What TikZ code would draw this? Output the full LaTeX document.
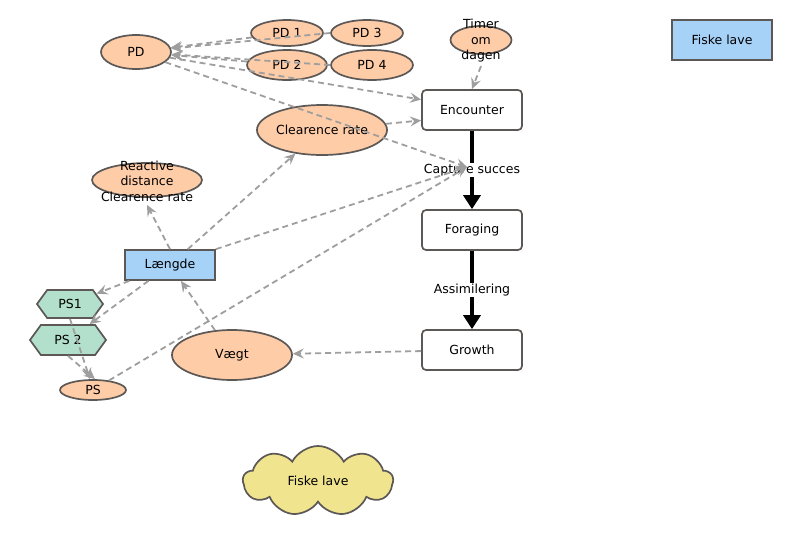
\documentclass[tikz,border=0pt]{standalone}
\usepackage{fontspec}
\setmainfont{DejaVu Sans}
\usetikzlibrary{shapes.geometric,shapes.symbols,arrows.meta,calc}
\definecolor{peach}{RGB}{255,204,168}
\definecolor{mint}{RGB}{178,224,204}
\definecolor{skyblue}{RGB}{166,210,248}
\definecolor{sand}{RGB}{240,228,142}
\definecolor{rim}{RGB}{92,88,86}
\definecolor{linkgrey}{RGB}{158,158,158}
\begin{document}
\begin{tikzpicture}[x=1pt, y=-1pt,
    every node/.style={font=\fontsize{12.5}{15.5}\selectfont},
    oval/.style={ellipse, draw=rim, line width=1.7pt, fill=peach, inner sep=0pt},
    step box/.style={rectangle, draw=rim, line width=1.7pt, rounded corners=4pt, fill=white, minimum width=100, minimum height=40},
    var box/.style={rectangle, draw=rim, line width=1.7pt, fill=skyblue},
    hexa/.style={signal, signal to=west and east, signal pointer angle=108, draw=rim, line width=1.7pt, fill=mint, inner sep=0pt},
    link/.style={draw=linkgrey, line width=1.8pt, dash pattern=on 6pt off 4pt, -{Stealth[length=11pt, width=10pt, inset=4pt]}},
    flow/.style={draw=black, line width=4.5pt, -{Triangle[length=14pt, width=17pt]}}
]
\useasboundingbox (0,0) rectangle (800,541);

% pelagic density
\node[oval, minimum width=70, minimum height=34] (pd) at (136,52) {PD};
\node[oval, minimum width=72, minimum height=26] (pd1) at (287,33) {PD 1};
\node[oval, minimum width=72, minimum height=26] (pd3) at (367,33) {PD 3};
\node[oval, minimum width=80, minimum height=30] (pd2) at (287,65) {PD 2};
\node[oval, minimum width=82, minimum height=30] (pd4) at (372,65) {PD 4};

% time of day
\node[oval, minimum width=61, minimum height=28] (timer) at (481,40) {};
\node[align=center] (timertxt) at (481,41) {Timer\\om\\dagen};

% main chain
\node[step box] (enc) at (472,110) {Encounter};
\node[step box] (forag) at (472,230) {Foraging};
\node[step box] (growth) at (472,350) {Growth};

\node[oval, minimum width=120, minimum height=50] (clear) at (322,130) {Clearence rate};
\node[oval, minimum width=110, minimum height=34] (react) at (147,180) {};
\node[align=center] (reacttxt) at (147,181) {Reactive\\distance\\Clearence rate};

\node[var box, minimum width=90, minimum height=30] (laengde) at (170,265) {Længde};
\node[hexa, minimum width=66, minimum height=28] (ps1) at (70,304) {PS1};
\node[hexa, minimum width=76, minimum height=30] (ps2) at (68,340) {PS 2};
\node[oval, minimum width=66, minimum height=20] (ps) at (93,390) {PS};
\node[oval, minimum width=120, minimum height=50] (vaegt) at (232,355) {Vægt};

% legend
\node[cloud, cloud puffs=9, cloud puff arc=125, aspect=2.2, draw=rim, line width=1.7pt, fill=sand, minimum width=150, minimum height=70] (cloudlave) at (318,481) {Fiske lave};
\node[var box, minimum width=100, minimum height=40] (boxlave) at (722,40) {Fiske lave};

% flow
\draw[flow] (enc) -- node[fill=white, inner sep=1pt] (capt) {Capture succes} (forag);
\draw[flow] (forag) -- node[fill=white, inner sep=1pt] {Assimilering} (growth);
\coordinate (cap) at (467,167);

% influences
\draw[link] (pd1) -- (pd);
\draw[link] (pd3.west) -- (pd);
\draw[link] (pd2) -- (pd);
\draw[link] (pd4.west) -- (pd);
\draw[link] (pd) -- ($(enc.west)!0.5!(enc.north west)$);
\draw[link] (pd) -- (cap);
\draw[link] (clear) -- ($(enc.west)!0.5!(enc.south west)$);
\draw[link] (timertxt.south) -- (enc.north);
\draw[link] (laengde.north) -- (reacttxt.south);
\draw[link] (laengde) -- (clear);
\draw[link] (laengde.north east) -- (cap);
\draw[link] (laengde) -- (ps1);
\draw[link] (laengde) -- (ps2);
\draw[link] (vaegt) -- (laengde);
\draw[link] (ps) -- (cap);
\draw[link] (growth) -- (vaegt);
\draw[link] (ps1.south) -- ([xshift=-3pt]ps.north);
\draw[link] (ps2.south) -- ([xshift=2pt]ps.north);
\end{tikzpicture}
\end{document}
